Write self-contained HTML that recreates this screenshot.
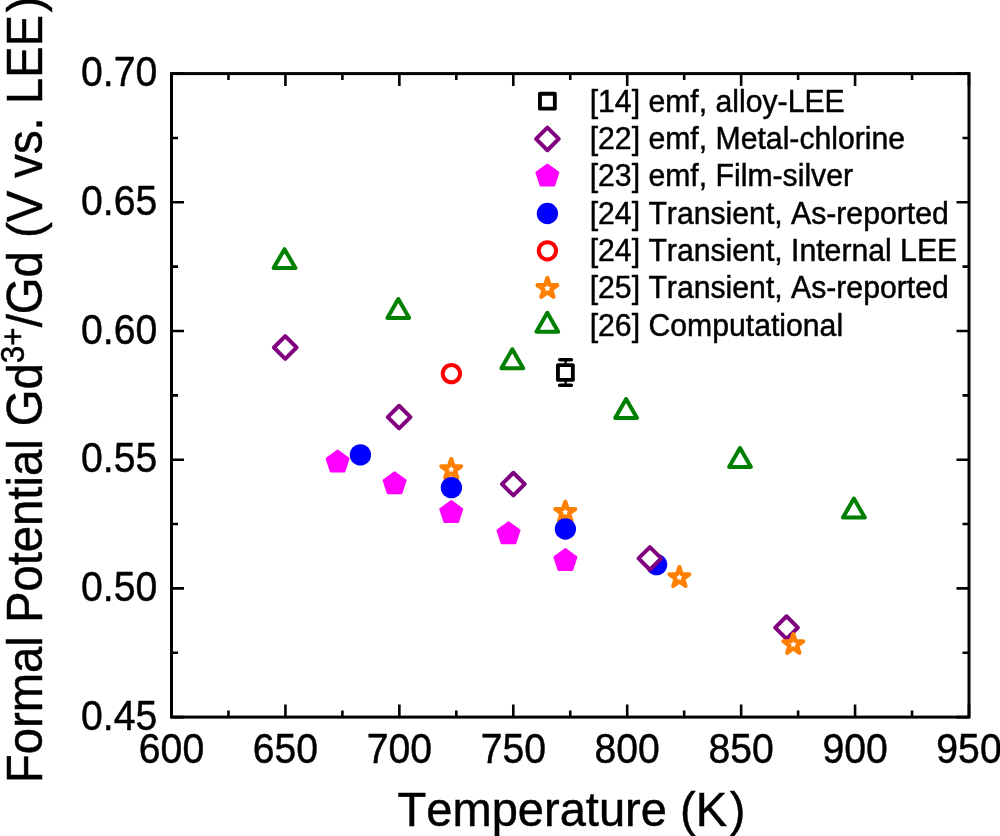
<!DOCTYPE html>
<html lang="en">
<head>
<meta charset="utf-8">
<title>Formal Potential Gd3+/Gd vs Temperature</title>
<style>
html,body{margin:0;padding:0;background:#fff;}
body{width:1000px;height:836px;overflow:hidden;}
svg{display:block;}
text{font-family:"Liberation Sans", Arial, Helvetica, sans-serif;fill:#000;font-kerning:none;stroke:#000;stroke-width:0.45px;}
.tick{font-size:39.16px;}
.title{font-size:47.3px;}
.leg{font-size:30.2px;}
</style>
</head>
<body>
<svg width="1000" height="836" viewBox="0 0 1000 836">
<rect x="0" y="0" width="1000" height="836" fill="#fff"/>
<path d="M171.50 73.60v12.50M171.50 717.10v-12.50M228.46 73.60v6.50M228.46 717.10v-6.50M285.43 73.60v12.50M285.43 717.10v-12.50M342.39 73.60v6.50M342.39 717.10v-6.50M399.36 73.60v12.50M399.36 717.10v-12.50M456.32 73.60v6.50M456.32 717.10v-6.50M513.29 73.60v12.50M513.29 717.10v-12.50M570.25 73.60v6.50M570.25 717.10v-6.50M627.21 73.60v12.50M627.21 717.10v-12.50M684.18 73.60v6.50M684.18 717.10v-6.50M741.14 73.60v12.50M741.14 717.10v-12.50M798.11 73.60v6.50M798.11 717.10v-6.50M855.07 73.60v12.50M855.07 717.10v-12.50M912.04 73.60v6.50M912.04 717.10v-6.50M969.00 73.60v12.50M969.00 717.10v-12.50M171.50 717.10h12.50M969.00 717.10h-12.50M171.50 652.75h6.50M969.00 652.75h-6.50M171.50 588.40h12.50M969.00 588.40h-12.50M171.50 524.05h6.50M969.00 524.05h-6.50M171.50 459.70h12.50M969.00 459.70h-12.50M171.50 395.35h6.50M969.00 395.35h-6.50M171.50 331.00h12.50M969.00 331.00h-12.50M171.50 266.65h6.50M969.00 266.65h-6.50M171.50 202.30h12.50M969.00 202.30h-12.50M171.50 137.95h6.50M969.00 137.95h-6.50M171.50 73.60h12.50M969.00 73.60h-12.50" stroke="#000" stroke-width="2.60" fill="none"/>
<rect x="171.50" y="73.60" width="797.50" height="643.50" fill="none" stroke="#000" stroke-width="3"/>
<text class="tick" transform="translate(171.50,762.9) scale(1,1.078)" text-anchor="middle">600</text>
<text class="tick" transform="translate(285.43,762.9) scale(1,1.078)" text-anchor="middle">650</text>
<text class="tick" transform="translate(399.36,762.9) scale(1,1.078)" text-anchor="middle">700</text>
<text class="tick" transform="translate(513.29,762.9) scale(1,1.078)" text-anchor="middle">750</text>
<text class="tick" transform="translate(627.21,762.9) scale(1,1.078)" text-anchor="middle">800</text>
<text class="tick" transform="translate(741.14,762.9) scale(1,1.078)" text-anchor="middle">850</text>
<text class="tick" transform="translate(855.07,762.9) scale(1,1.078)" text-anchor="middle">900</text>
<text class="tick" transform="translate(969.00,762.9) scale(1,1.078)" text-anchor="middle">950</text>
<text class="tick" transform="translate(157.2,729.60) scale(1,1.078)" text-anchor="end">0.45</text>
<text class="tick" transform="translate(157.2,600.90) scale(1,1.078)" text-anchor="end">0.50</text>
<text class="tick" transform="translate(157.2,472.20) scale(1,1.078)" text-anchor="end">0.55</text>
<text class="tick" transform="translate(157.2,343.50) scale(1,1.078)" text-anchor="end">0.60</text>
<text class="tick" transform="translate(157.2,214.80) scale(1,1.078)" text-anchor="end">0.65</text>
<text class="tick" transform="translate(157.2,86.10) scale(1,1.078)" text-anchor="end">0.70</text>
<text class="title" transform="translate(571.5,825.8) scale(1,1.02)" text-anchor="middle" style="font-size:47.05px">Temperature (K<tspan dx="2.7">)</tspan></text>
<text class="title" transform="translate(42.3,783.2) rotate(-90) scale(1,1.04)" style="font-size:47.25px">Formal Potential Gd<tspan dy="-18" style="font-size:31.5px">3+</tspan><tspan dy="18">/Gd (V vs. LEE</tspan><tspan dx="2.7">)</tspan></text>
<g id="data">
<polygon points="786.55,616.25 797.90,627.60 786.55,638.95 775.20,627.60" fill="#fff" stroke="#800080" stroke-width="4.00" stroke-linejoin="round"/>
<polygon points="451.25,459.10 453.59,466.29 461.14,466.29 455.03,470.73 457.36,477.91 451.25,473.47 445.14,477.91 447.47,470.73 441.36,466.29 448.91,466.29" fill="#fff" stroke="#FF8000" stroke-width="4.20" stroke-linejoin="round"/>
<polygon points="565.30,501.85 567.64,509.04 575.19,509.04 569.08,513.48 571.41,520.66 565.30,516.22 559.19,520.66 561.52,513.48 555.41,509.04 562.96,509.04" fill="#fff" stroke="#FF8000" stroke-width="4.20" stroke-linejoin="round"/>
<polygon points="679.40,567.10 681.74,574.29 689.29,574.29 683.18,578.73 685.51,585.91 679.40,581.47 673.29,585.91 675.62,578.73 669.51,574.29 677.06,574.29" fill="#fff" stroke="#FF8000" stroke-width="4.20" stroke-linejoin="round"/>
<polygon points="793.30,634.05 795.64,641.24 803.19,641.24 797.08,645.68 799.41,652.86 793.30,648.42 787.19,652.86 789.52,645.68 783.41,641.24 790.96,641.24" fill="#fff" stroke="#FF8000" stroke-width="4.20" stroke-linejoin="round"/>
<polygon points="337.60,450.50 348.63,458.52 344.42,471.48 330.78,471.48 326.57,458.52" fill="#FF00FF" stroke="#FF00FF" stroke-width="2.00" stroke-linejoin="round"/>
<polygon points="394.60,472.25 405.63,480.27 401.42,493.23 387.78,493.23 383.57,480.27" fill="#FF00FF" stroke="#FF00FF" stroke-width="2.00" stroke-linejoin="round"/>
<polygon points="451.25,501.00 462.28,509.02 458.07,521.98 444.43,521.98 440.22,509.02" fill="#FF00FF" stroke="#FF00FF" stroke-width="2.00" stroke-linejoin="round"/>
<polygon points="508.50,522.25 519.53,530.27 515.32,543.23 501.68,543.23 497.47,530.27" fill="#FF00FF" stroke="#FF00FF" stroke-width="2.00" stroke-linejoin="round"/>
<polygon points="565.40,549.00 576.43,557.02 572.22,569.98 558.58,569.98 554.37,557.02" fill="#FF00FF" stroke="#FF00FF" stroke-width="2.00" stroke-linejoin="round"/>
<circle cx="360.40" cy="454.90" r="10.65" fill="#0000FF"/>
<circle cx="451.40" cy="487.60" r="10.65" fill="#0000FF"/>
<circle cx="565.40" cy="529.00" r="10.65" fill="#0000FF"/>
<circle cx="656.60" cy="564.60" r="10.65" fill="#0000FF"/>
<circle cx="451.40" cy="373.60" r="8.65" fill="#fff" stroke="#FF0000" stroke-width="4.00"/>
<polygon points="285.25,336.15 296.60,347.50 285.25,358.85 273.90,347.50" fill="#fff" stroke="#800080" stroke-width="4.00" stroke-linejoin="round"/>
<polygon points="399.10,405.75 410.45,417.10 399.10,428.45 387.75,417.10" fill="#fff" stroke="#800080" stroke-width="4.00" stroke-linejoin="round"/>
<polygon points="513.40,472.75 524.75,484.10 513.40,495.45 502.05,484.10" fill="#fff" stroke="#800080" stroke-width="4.00" stroke-linejoin="round"/>
<polygon points="649.90,547.05 661.25,558.40 649.90,569.75 638.55,558.40" fill="#fff" stroke="#800080" stroke-width="4.00" stroke-linejoin="round"/>
<polygon points="284.50,249.20 295.40,268.08 273.60,268.08" fill="#fff" stroke="#008000" stroke-width="4.00" stroke-linejoin="round"/>
<polygon points="398.30,299.00 409.20,317.88 387.40,317.88" fill="#fff" stroke="#008000" stroke-width="4.00" stroke-linejoin="round"/>
<polygon points="512.30,349.30 523.20,368.18 501.40,368.18" fill="#fff" stroke="#008000" stroke-width="4.00" stroke-linejoin="round"/>
<polygon points="626.10,399.00 637.00,417.88 615.20,417.88" fill="#fff" stroke="#008000" stroke-width="4.00" stroke-linejoin="round"/>
<polygon points="740.00,448.00 750.90,466.88 729.10,466.88" fill="#fff" stroke="#008000" stroke-width="4.00" stroke-linejoin="round"/>
<polygon points="853.90,498.60 864.80,517.48 843.00,517.48" fill="#fff" stroke="#008000" stroke-width="4.00" stroke-linejoin="round"/>
<path d="M565.6 359.8V385.2" stroke="#000" stroke-width="2.4" fill="none"/>
<path d="M559.6 359.8H571.4M559.6 385.2H571.4" stroke="#000" stroke-width="3.5" stroke-linecap="round" fill="none"/>
<rect x="557.95" y="365.05" width="14.90" height="14.90" fill="#fff" stroke="#000" stroke-width="3.85" stroke-linejoin="round"/>
</g>
<g id="legend">
<rect x="539.95" y="93.75" width="14.90" height="14.90" fill="#fff" stroke="#000" stroke-width="3.85" stroke-linejoin="round"/>
<polygon points="547.40,127.55 558.75,138.90 547.40,150.25 536.05,138.90" fill="#fff" stroke="#800080" stroke-width="4.00" stroke-linejoin="round"/>
<polygon points="547.40,164.50 558.43,172.52 554.22,185.48 540.58,185.48 536.37,172.52" fill="#FF00FF" stroke="#FF00FF" stroke-width="2.00" stroke-linejoin="round"/>
<circle cx="547.40" cy="213.50" r="10.65" fill="#0000FF"/>
<circle cx="547.40" cy="250.80" r="8.65" fill="#fff" stroke="#FF0000" stroke-width="4.00"/>
<polygon points="547.40,278.00 549.74,285.19 557.29,285.19 551.18,289.63 553.51,296.81 547.40,292.37 541.29,296.81 543.62,289.63 537.51,285.19 545.06,285.19" fill="#fff" stroke="#FF8000" stroke-width="4.20" stroke-linejoin="round"/>
<polygon points="547.30,312.80 558.20,331.68 536.40,331.68" fill="#fff" stroke="#008000" stroke-width="4.00" stroke-linejoin="round"/>
<text class="leg" transform="translate(589.7,111.60) scale(1,1.035)">[14] emf, alloy-LEE</text>
<text class="leg" transform="translate(589.7,148.93) scale(1,1.035)">[22] emf, Metal-chlorine</text>
<text class="leg" transform="translate(589.7,186.26) scale(1,1.035)">[23] emf, Film-silver</text>
<text class="leg" transform="translate(589.7,223.59) scale(1,1.035)">[24] Transient, As-reported</text>
<text class="leg" transform="translate(589.7,260.92) scale(1,1.035)">[24] Transient, Internal LEE</text>
<text class="leg" transform="translate(589.7,298.25) scale(1,1.035)">[25] Transient, As-reported</text>
<text class="leg" transform="translate(589.7,335.58) scale(1,1.035)">[26] Computational</text>
</g>
</svg>
</body>
</html>
